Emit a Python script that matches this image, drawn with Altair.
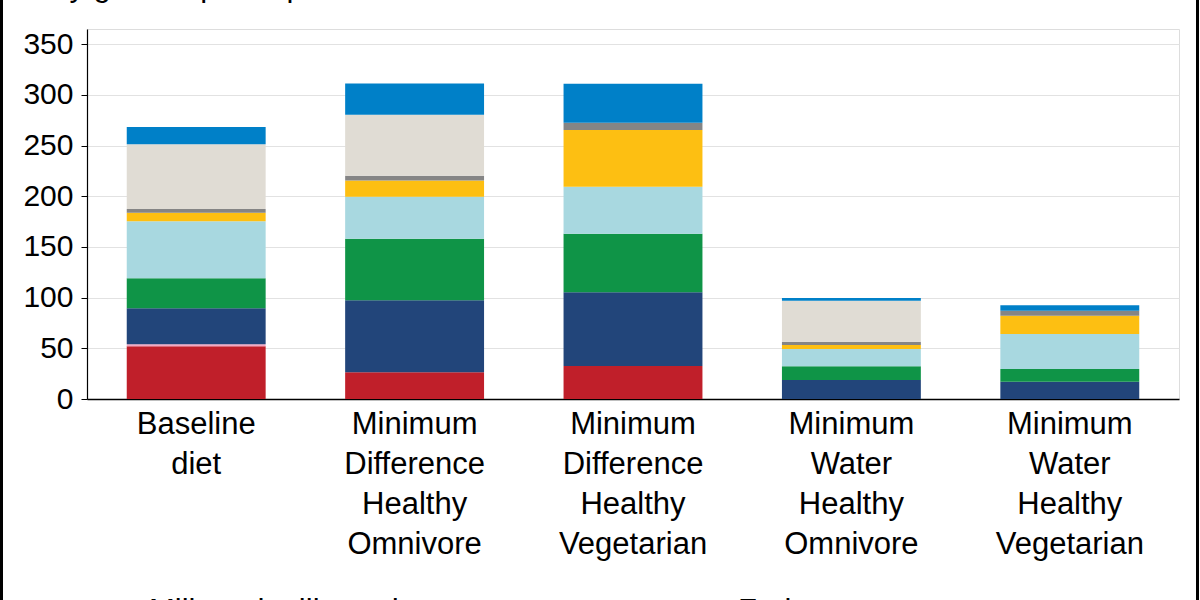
import altair as alt
import pandas as pd

# Diet scenarios (x axis) — each word goes on its own label line
diets = [
    "Baseline diet",
    "Minimum Difference Healthy Omnivore",
    "Minimum Difference Healthy Vegetarian",
    "Minimum Water Healthy Omnivore",
    "Minimum Water Healthy Vegetarian",
]

# Food groups, stacked bottom to top
groups = [
    "Milk and milk products",
    "Eggs",
    "Grain products",
    "Vegetables",
    "Legumes, nuts, and seeds",
    "Fruits",
    "Fats, oils, and salad dressings",
    "Meat, poultry, fish, and mixtures",
    "Sugars, sweets, and beverages",
]
colors = [
    "#c01f2a", "#f4a7c3", "#22457a", "#0f9447", "#a8d8e0",
    "#fdbf12", "#858585", "#e0dcd4", "#0080c8",
]

# Gallons per capita per day, one list per diet, in the group order above
baseline = [52.0, 2.0, 35.5, 29.6, 56.2, 8.5, 3.6, 63.8, 17.1]
md_omnivore = [26.3, 0.0, 71.0, 60.7, 41.4, 16.2, 4.6, 60.1, 30.9]
md_vegetarian = [32.5, 0.0, 72.7, 57.8, 46.3, 56.0, 7.3, 0.0, 38.4]
mw_omnivore = [0.0, 0.0, 18.7, 13.5, 17.1, 3.9, 3.3, 40.4, 2.7]
mw_vegetarian = [0.0, 0.0, 17.1, 12.5, 34.5, 18.0, 5.0, 0.0, 5.3]

y_ticks = [0, 50, 100, 150, 200, 250, 300, 350]

series = [baseline, md_omnivore, md_vegetarian, mw_omnivore, mw_vegetarian]
rows = []
for diet, vals in zip(diets, series):
    for rank, (g, v) in enumerate(zip(groups, vals)):
        rows.append({"diet": diet, "group": g, "rank": rank, "value": v})
df = pd.DataFrame(rows)

FONT = "Liberation Sans"

bars = (
    alt.Chart(df)
    .mark_bar()
    .encode(
        x=alt.X(
            "diet:N",
            sort=diets,
            scale=alt.Scale(paddingInner=0.364, paddingOuter=0.182),
            axis=alt.Axis(
                title=None,
                labelAngle=0,
                ticks=False,
                labelExpr="split(datum.label, ' ')",
                labelFontSize=31,
                labelLineHeight=40,
                labelPadding=10,
                labelColor="#000000",
                labelFont=FONT,
                domainColor="#000000",
                domainWidth=1.5,
                grid=False,
            ),
        ),
        y=alt.Y(
            "value:Q",
            stack="zero",
            scale=alt.Scale(domain=[0, 365], nice=False),
            axis=alt.Axis(
                title=None,
                values=y_ticks,
                grid=True,
                gridColor="#e2e2e2",
                gridWidth=1,
                domainColor="#000000",
                domainWidth=1.2,
                tickColor="#000000",
                tickSize=6,
                labelFontSize=30,
                labelPadding=8,
                labelColor="#000000",
                labelFont=FONT,
            ),
        ),
        color=alt.Color(
            "group:N",
            scale=alt.Scale(domain=groups, range=colors),
            legend=alt.Legend(
                title=None,
                orient="none",
                legendX=21,
                legendY=567,
                columns=2,
                columnPadding=184,
                symbolType="square",
                symbolSize=150,
                symbolStrokeWidth=0,
                labelFontSize=31,
                labelFont=FONT,
                labelColor="#000000",
                labelOffset=10,
                labelLimit=600,
                rowPadding=12,
                padding=0,
            ),
        ),
        order=alt.Order("rank:Q", sort="ascending"),
    )
)

# Heading above the plot; only its lowest strokes fall inside the figure
heading = (
    alt.Chart(alt.Data(values=[{"text": "Daily gallons per capita"}]))
    .mark_text(
        align="left",
        baseline="alphabetic",
        fontSize=31,
        font=FONT,
        color="#000000",
    )
    .encode(text="text:N", x=alt.value(-71), y=alt.value(-33))
)

# Frame edges at the left and right of the figure
frame_left = (
    alt.Chart(alt.Data(values=[{}]))
    .mark_rule(color="#000000", strokeWidth=3)
    .encode(x=alt.value(-85.5), y=alt.value(-40), y2=alt.value(600))
)
frame_right = (
    alt.Chart(alt.Data(values=[{}]))
    .mark_rule(color="#000000", strokeWidth=3)
    .encode(x=alt.value(1110.5), y=alt.value(-40), y2=alt.value(600))
)

chart = (
    alt.layer(bars, heading, frame_left, frame_right)
    .properties(
        width=1092,
        height=370,
        padding={"left": 87, "top": 29, "right": 21, "bottom": 201},
        autosize=alt.AutoSizeParams(type="none"),
    )
    .configure_view(stroke=None)
    .configure(background="#ffffff")
)

chart.save("out.html", embed_options={"renderer": "svg", "actions": False})
